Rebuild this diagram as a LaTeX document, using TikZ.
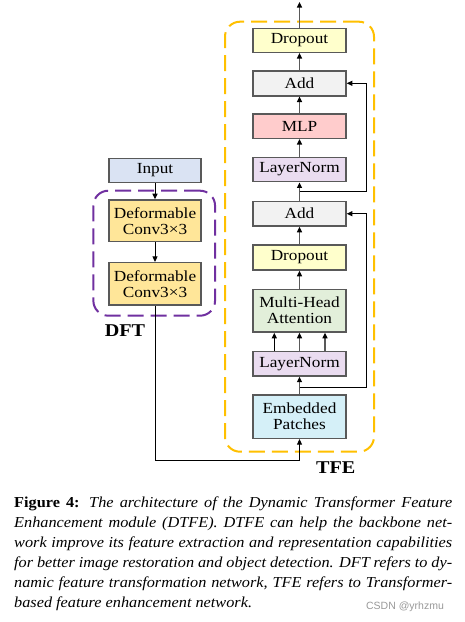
\documentclass[tikz,border=0pt]{standalone}
\usepackage{fontspec}
\setmainfont{Liberation Serif}
\newfontfamily\boxfont{Liberation Serif}[FakeStretch=1.12]
\newfontfamily\capfont{Liberation Serif}[FakeStretch=1.07]
\newfontfamily\wmfont{Liberation Sans}
\usetikzlibrary{arrows.meta}
\definecolor{cDrop}{HTML}{FFFFCC}
\definecolor{cAdd}{HTML}{F2F2F2}
\definecolor{cMLP}{HTML}{FFCCCC}
\definecolor{cLN}{HTML}{EADCF0}
\definecolor{cMHA}{HTML}{E2EFDA}
\definecolor{cEmb}{HTML}{D5F0F8}
\definecolor{cDef}{HTML}{FFE699}
\definecolor{cIn}{HTML}{DAE3F3}
\definecolor{cBorder}{HTML}{595959}
\definecolor{cTFE}{HTML}{FFC000}
\definecolor{cDFT}{HTML}{7030A0}
\tikzset{
  blk/.style={draw=cBorder, line width=1.5pt, minimum width=93pt, inner sep=0pt,
    font=\boxfont\fontsize{15.4}{16}\selectfont, align=center},
  mainline/.style={draw=cBorder, line width=1.6pt, -{Triangle[length=5.5pt,width=5pt,color=black]}},
  thinline/.style={draw=black, line width=1pt, -{Triangle[length=5.5pt,width=5pt,color=black]}},
  fbline/.style={draw=black, line width=1pt, -{Triangle[length=5.5pt,width=5pt,color=black]}},
  groupbox/.style={line width=2pt, dash pattern=on 16pt off 7pt, rounded corners=15pt, inner sep=0pt},
  grouplabel/.style={font=\boxfont\bfseries\fontsize{18}{20}\selectfont},
  capline/.style={anchor=base west, inner sep=0pt, font=\capfont\fontsize{15.2}{18}\selectfont},
}
\begin{document}
\begin{tikzpicture}[x=1pt,y=-1pt]
\path[use as bounding box, fill=white] (0,0) rectangle (464,622);

% group boxes
\node[groupbox, draw=cTFE, minimum width=149pt, minimum height=430pt] (tfe) at (299.5,236.7) {};
\node[groupbox, draw=cDFT, minimum width=121.7pt, minimum height=125pt] (dft) at (154.2,253.2) {};

% TFE column
\node[blk, fill=cDrop, minimum height=24pt] (drop1) at (299.5,40.3) {Dropout};
\node[blk, fill=cAdd, minimum height=25pt] (add1) at (299.5,83.3) {Add};
\node[blk, fill=cMLP, minimum height=24.3pt] (mlp) at (299.5,126.2) {MLP};
\node[blk, fill=cLN, minimum height=24.4pt] (ln1) at (299.5,169.5) {LayerNorm};
\node[blk, fill=cAdd, minimum height=24.7pt] (add2) at (299.5,213.7) {Add};
\node[blk, fill=cDrop, minimum height=25pt] (drop2) at (299.5,257.5) {Dropout};
\node[blk, fill=cMHA, minimum height=42.7pt] (mha) at (299.5,310.7) {Multi-Head\\Attention};
\node[blk, fill=cLN, minimum height=24.3pt] (ln2) at (299.5,363.8) {LayerNorm};
\node[blk, fill=cEmb, minimum height=43.3pt] (emb) at (299.5,416.7) {Embedded\\Patches};

% DFT column
\node[blk, fill=cIn, minimum width=92pt, minimum height=24pt] (in) at (155,170.3) {Input};
\node[blk, fill=cDef, minimum width=92pt, minimum height=41.7pt] (def1) at (155,220.8) {Deformable\\Conv3\texttimes3};
\node[blk, fill=cDef, minimum width=92pt, minimum height=42.3pt] (def2) at (155,283.8) {Deformable\\Conv3\texttimes3};

% labels
\node[grouplabel] (dftl) at (125,330.5) {DFT};
\node[grouplabel] (tfel) at (335.7,467.5) {TFE};

% coordinates
\coordinate (top) at (299.5,2);
\coordinate (f1) at (299.5,191.7);
\coordinate (r1) at (366,191.7);
\coordinate (f2) at (299.5,387.3);
\coordinate (r2) at (366,387.3);
\coordinate (c1) at (155,460);

% main flow
\draw[mainline] (emb) -- (ln2);
\draw[mainline] (ln2) -- (mha);
\draw[thinline] ([xshift=-25.2pt]ln2.north) -- ([xshift=-25.2pt]mha.south);
\draw[mainline] ([xshift=25.5pt]ln2.north) -- ([xshift=25.5pt]mha.south);
\draw[mainline] (mha) -- (drop2);
\draw[mainline] (drop2) -- (add2);
\draw[mainline] (add2) -- (ln1);
\draw[mainline] (ln1) -- (mlp);
\draw[mainline] (mlp) -- (add1);
\draw[mainline] (add1) -- (drop1);
\draw[mainline] (drop1) -- (top);

% residuals
\draw[fbline] (f1) -- (r1) |- (add1.east);
\draw[fbline] (f2) -- (r2) |- (add2.east);

% DFT flow
\draw[thinline] (in) -- (def1);
\draw[thinline] (def1) -- (def2);
\draw[thinline] (def2.south) -- (c1) -| (emb.south);

% caption
\node[capline] (cap1) at (14,507) {\makebox[438pt][s]{\textbf{Figure 4:} \textit{The architecture of the Dynamic Transformer Feature}}};
\node[capline] (cap2) at (14,527.1) {\makebox[438pt][s]{\textit{Enhancement module (DTFE). DTFE can help the backbone net-}}};
\node[capline] (cap3) at (14,547.2) {\makebox[438pt][s]{\textit{work improve its feature extraction and representation capabilities}}};
\node[capline] (cap4) at (14,567.3) {\makebox[438pt][s]{\textit{for better image restoration and object detection. DFT refers to dy-}}};
\node[capline] (cap5) at (14,587.4) {\makebox[438pt][s]{\textit{namic feature transformation network, TFE refers to Transformer-}}};
\node[capline] (cap6) at (14,607.5) {\textit{based feature enhancement network.}};

% watermark
\node[font=\wmfont\fontsize{10.5}{12}\selectfont, text=black!40] (wm) at (405,607) {CSDN @yrhzmu};
\end{tikzpicture}
\end{document}
